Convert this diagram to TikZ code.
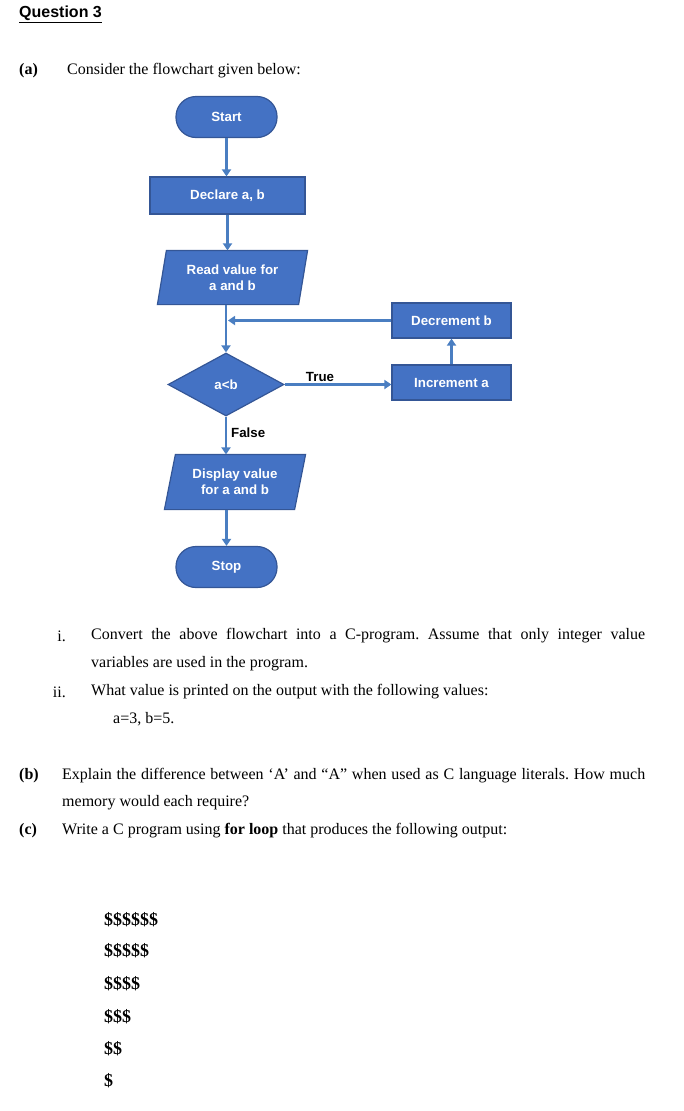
\documentclass[tikz,border=0pt]{standalone}
\usepackage{fontspec}
\setmainfont{Liberation Serif}
\setsansfont{Liberation Sans}
\usetikzlibrary{shapes.geometric,arrows.meta,backgrounds}
\definecolor{boxfill}{RGB}{68,114,196}
\definecolor{boxline}{RGB}{52,86,150}
\definecolor{arrowc}{RGB}{74,126,193}
\frenchspacing
\begin{document}
\begin{tikzpicture}[x=1pt,y=-1pt,
  txt/.style={font=\fontsize{16}{19}\selectfont, inner sep=0pt, anchor=west, text=black},
  btxt/.style={txt, font=\bfseries\fontsize{16}{19}\selectfont},
  dol/.style={txt, font=\bfseries\fontsize{18}{21}\selectfont},
  fbox/.style={fill=boxfill, draw=boxline, line width=1.2pt, text=white, font=\sffamily\bfseries\fontsize{13.3}{16}\selectfont, align=center, inner sep=0pt},
  term/.style={fbox, rounded corners=20pt, minimum width=101pt, minimum height=41pt},
  proc/.style={fbox, rectangle, minimum width=119pt, minimum height=35pt},
  iotext/.style={fbox, fill=none, draw=none, minimum height=53pt},
  dec/.style={fbox, diamond, minimum width=116pt, minimum height=63pt},
  iofill/.style={fill=boxfill, draw=boxline, line width=1.2pt},
  conn/.style={draw=arrowc, line width=2.4pt, -{Triangle[width=9pt,length=7pt]}},
  lbl/.style={font=\sffamily\bfseries\fontsize{13.3}{16}\selectfont, inner sep=0pt, text=black}
]
\useasboundingbox (0,0) rectangle (684,1111);

% header
\node[txt, font=\sffamily\bfseries\fontsize{16}{19}\selectfont] (q3) at (19,14) {\underline{Question 3}};
\node[btxt] (pa) at (19,71) {(a)};
\node[txt] (intro) at (67,71) {Consider the flowchart given below:};

% flowchart
\node[term] (start) at (226.5,117) {Start};
\node[proc, minimum width=155pt, minimum height=37pt] (declare) at (227.5,195.5) {Declare a, b};
\node[iotext, minimum width=140pt] (read) at (232.5,277.5) {Read value for\\a and b};
\node[dec] (cond) at (226,384.5) {a<b};
\node[proc] (dec) at (451.5,320.5) {Decrement b};
\node[proc] (inc) at (451.5,382.5) {Increment a};
\node[iotext, minimum width=129pt, minimum height=54pt] (disp) at (235,482) {Display value\\for a and b};
\node[term] (stop) at (226.5,567) {Stop};

\begin{scope}[on background layer]
  \filldraw[iofill] ([xshift=4.5pt]read.north west) -- ([xshift=4.5pt]read.north east)
     -- ([xshift=-4.5pt]read.south east) -- ([xshift=-4.5pt]read.south west) -- cycle;
  \filldraw[iofill] ([xshift=5.5pt]disp.north west) -- ([xshift=5.5pt]disp.north east)
     -- ([xshift=-5.5pt]disp.south east) -- ([xshift=-5.5pt]disp.south west) -- cycle;
\end{scope}

\draw[conn] (start.south) -- (start.south |- declare.north);
\draw[conn] (declare.south) -- (declare.south |- read.north);
\draw[conn] (cond.north |- read.south) -- (cond.north);
\coordinate (loopend) at (cond.north |- dec.west);
\draw[conn] (dec.west) -- ([xshift=2pt]loopend);
\draw[conn] (inc.north) -- (dec.south);
\draw[conn] (cond.east) -- (inc.west |- cond.east);
\node[lbl] (truelbl) at (320,377) {True};
\draw[conn] (cond.south) -- (cond.south |- disp.north);
\node[lbl, anchor=west] (falselbl) at (231,433) {False};
\draw[conn] (stop.north |- disp.south) -- (stop.north);

% questions
\node[txt, anchor=east] (ri) at (66,636) {i.};
\node[txt] (qi1) at (91,636) {\makebox[554pt][s]{Convert the above flowchart into a C-program. Assume that only integer value}};
\node[txt] (qi2) at (91,664) {variables are used in the program.};
\node[txt, anchor=east] (rii) at (66,692) {ii.};
\node[txt] (qii) at (91,692) {What value is printed on the output with the following values:};
\node[txt] (vals) at (113,719) {a=3, b=5.};

\node[btxt] (pb) at (19,776) {(b)};
\node[txt] (qb1) at (62,776) {\makebox[583pt][s]{Explain the difference between ‘A’ and “A” when used as C language literals. How much}};
\node[txt] (qb2) at (62,803) {memory would each require?};
\node[btxt] (pc) at (19,831) {(c)};
\node[txt] (qc) at (62,831) {Write a C program using \textbf{for loop} that produces the following output:};

\node[dol] (d6) at (104,920) {\$\$\$\$\$\$};
\node[dol] (d5) at (104,951) {\$\$\$\$\$};
\node[dol] (d4) at (104,984) {\$\$\$\$};
\node[dol] (d3) at (104,1017) {\$\$\$};
\node[dol] (d2) at (104,1049) {\$\$};
\node[dol] (d1) at (104,1081) {\$};
\end{tikzpicture}
\end{document}
